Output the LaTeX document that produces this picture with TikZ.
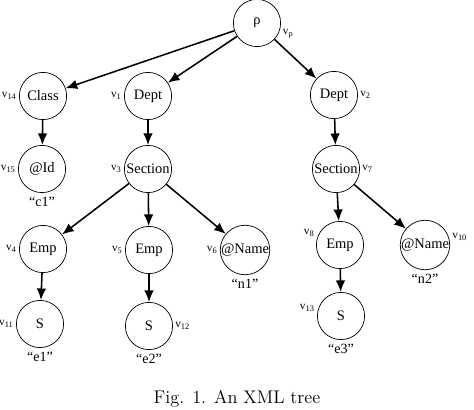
\documentclass[tikz,border=0pt]{standalone}
\usepackage{fontspec}
\newfontfamily\treefont{Liberation Serif}
\usetikzlibrary{arrows.meta}

\begin{document}
\begin{tikzpicture}[
  x=0.025cm, y=-0.025cm,
  elem/.style={circle, draw, line width=0.5pt, minimum size=1.18cm, inner sep=0,
    font=\treefont\fontsize{10.3}{12}\selectfont},
  vlabel/.style={font=\treefont\fontsize{8}{9}\selectfont, inner sep=1.5pt},
  val/.style={font=\treefont\fontsize{10}{12}\selectfont, inner sep=1pt, label distance=2pt},
  edge/.style={-{Latex[length=2.9mm,width=2.4mm]}, line width=1.1pt}
]
\useasboundingbox (0,0) rectangle (474,409);

% top level
\node[elem, label={[vlabel]-10:v\textsubscript{ρ}}] (root) at (257,23) {ρ};
\node[elem, label={[vlabel]180:v\textsubscript{14}}] (l1) at (43,96) {Class};
\node[elem, label={[vlabel]180:v\textsubscript{1}}] (m1) at (148,96) {Dept};
\node[elem, label={[vlabel]0:v\textsubscript{2}}] (r1) at (334,95) {Dept};

% second level
\node[elem, label={[vlabel]180:v\textsubscript{15}},
  label={[val]below:“c1”}] (ll2) at (42,169) {@Id};
\node[elem, label={[vlabel]180:v\textsubscript{3}}] (ml2) at (148,169) {Section};
\node[elem, label={[vlabel]0:v\textsubscript{7}}] (rl2) at (336,169) {Section};

% third level
\node[elem, label={[vlabel]180:v\textsubscript{4}}] (mll3) at (43,249) {Emp};
\node[elem, label={[vlabel]180:v\textsubscript{5}}] (mlm3) at (149,250) {Emp};
\node[elem, label={[vlabel]180:v\textsubscript{6}},
  label={[val]below:“n1”}] (mlr3) at (245,250) {@Name};
\node[elem, label={[vlabel]165:v\textsubscript{8}}] (rll3) at (340,245) {Emp};
\node[elem, label={[vlabel]5:v\textsubscript{10}},
  label={[val]below:“n2”}] (rlr3) at (425,245) {@Name};

% leaves
\node[elem, label={[vlabel]180:v\textsubscript{11}},
  label={[val]below:“e1”}] (mlll4) at (40,324) {S};
\node[elem, label={[vlabel]0:v\textsubscript{12}},
  label={[val]below:“e2”}] (mlml4) at (149,326) {S};
\node[elem, label={[vlabel]175:v\textsubscript{13}},
  label={[val]below:“e3”}] (rlll4) at (341,316) {S};

\draw[edge] (root) -- (l1);
\draw[edge] (root) -- (m1);
\draw[edge] (root) -- (r1);

\draw[edge] (l1) -- (ll2);
\draw[edge] (m1) -- (ml2);
\draw[edge] (r1) -- (rl2);

\draw[edge] (ml2) -- (mll3);
\draw[edge] (ml2) -- (mlm3);
\draw[edge] (ml2) -- (mlr3);

\draw[edge] (rl2) -- (rll3);
\draw[edge] (rl2) -- (rlr3);

\draw[edge] (mll3) -- (mlll4);
\draw[edge] (mlm3) -- (mlml4);
\draw[edge] (rll3) -- (rlll4);

\node[font=\fontsize{13}{15}\selectfont] (caption) at (237,399) {Fig. 1. An XML tree};

\end{tikzpicture}
\end{document}
